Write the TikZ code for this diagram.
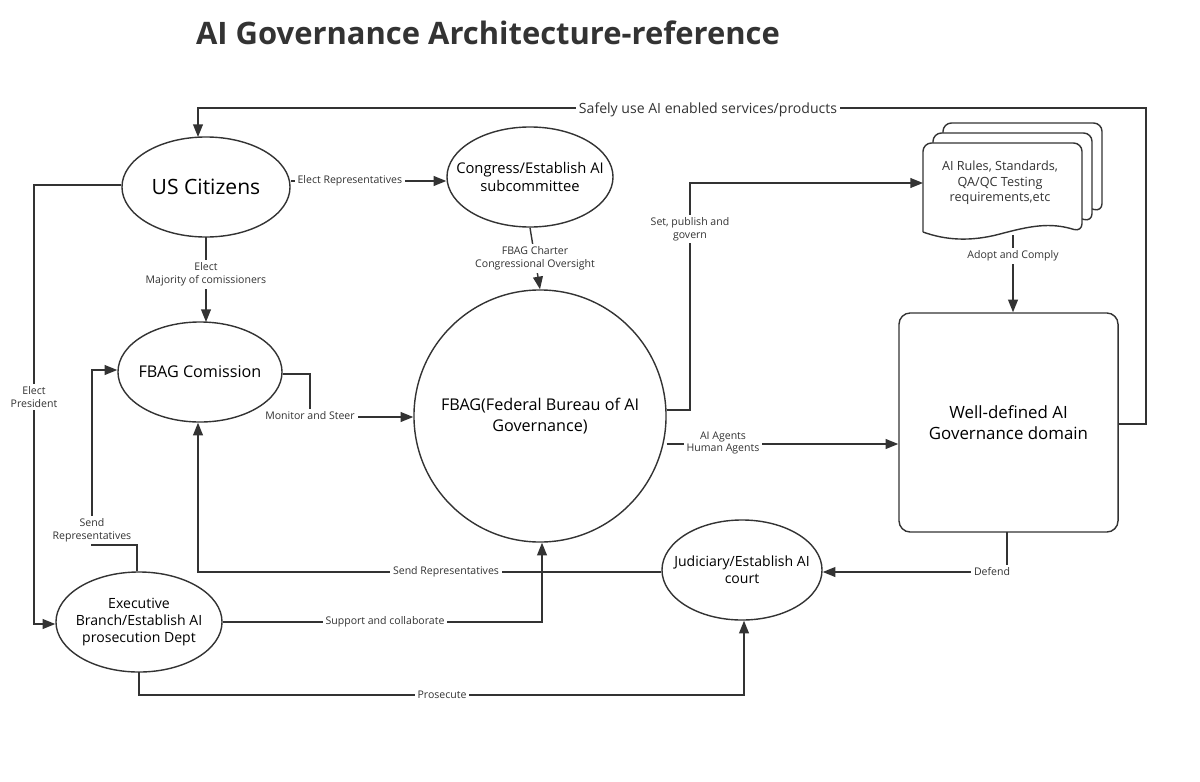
\documentclass[tikz,border=0pt]{standalone}
\usepackage{fontspec}
\setmainfont{Open Sans}
\usetikzlibrary{shapes.geometric,arrows.meta}
\definecolor{ink}{HTML}{333333}
\tikzset{
  ell/.style={draw=ink, line width=1pt, ellipse, align=center, fill=white, inner sep=-14pt},
  lbl/.style={fill=white, font=\fontsize{7.5}{9}\selectfont, align=center, inner sep=2pt, text=ink},
  link/.style={draw=ink, line width=1pt, -{Triangle[length=9pt,width=7pt]}},
  sheet/.style={draw=ink, line width=1pt, fill=white},
}
\begin{document}
\begin{tikzpicture}[x=0.025cm, y=-0.025cm]
\useasboundingbox (0,0) rectangle (1200,781);
\node[font=\bfseries\fontsize{22}{26}\selectfont, text=ink] (title) at (488,33) {AI Governance Architecture-reference};

% main shapes
\node[ell, minimum width=4.2cm, minimum height=2.5cm, font=\fontsize{15}{18}\selectfont] (us) at (206,187) {US Citizens};
\node[ell, minimum width=4.15cm, minimum height=2.5cm, font=\fontsize{10.5}{12.5}\selectfont] (cong) at (530,177) {Congress/Establish AI\\subcommittee};
\node[ell, minimum width=4.1cm, minimum height=2.5cm, font=\fontsize{11.5}{14}\selectfont] (comm) at (200,372) {FBAG Comission};
\node[draw=ink, line width=1pt, circle, minimum size=6.3cm, align=center, font=\fontsize{11.5}{15}\selectfont] (fbag) at (540,416) {FBAG(Federal Bureau of AI\\Governance)};
\node[draw=ink, line width=1pt, rounded corners=8pt, minimum width=5.475cm, minimum height=5.475cm, align=center, font=\fontsize{12}{15}\selectfont] (dom) at (1008.5,422.5) {Well-defined AI\\Governance domain};
\node[ell, minimum width=4cm, minimum height=2.5cm, font=\fontsize{10}{12}\selectfont] (jud) at (742,570) {Judiciary/Establish AI\\court};
\node[ell, minimum width=4.15cm, minimum height=2.5cm, font=\fontsize{10}{12}\selectfont] (exec) at (139,622) {Executive\\Branch/Establish AI\\prosecution Dept};

% stacked documents
\foreach \d in {20,10,0}
  \draw[sheet, rounded corners=6pt] (923+\d,232-\d) -- (923+\d,143-\d) -- (1082+\d,143-\d) -- (1082+\d,232-\d) [sharp corners]
    .. controls (1050+\d,222-\d) and (1030+\d,226-\d) .. (1000+\d,234-\d)
    .. controls (970+\d,242-\d) and (945+\d,240-\d) .. (923+\d,232-\d);
\node[font=\fontsize{9}{11}\selectfont, align=center, text=ink] (doc) at (1000,183) {AI Rules, Standards,\\QA/QC Testing\\requirements,etc};
\coordinate (docs) at (923,183);
\coordinate (docb) at (1013,235);

% connectors
\draw[link] (dom.east |- 0,424) -- (1146,424) -- (1146,108) -- (198,108) -- (198,137);
\node[lbl, font=\fontsize{10}{12}\selectfont] (safe) at (708,110) {Safely use AI enabled services/products};
\draw[link] (us.east |- 0,181) -- (cong.west |- 0,181) node[lbl, pos=0.38] (elrep) {Elect Representatives};
\draw[link] (206,237) -- (206,322) node[lbl, pos=0.44] (elmaj) {Elect\\Majority of comissioners};
\draw[link] (us.west |- 0,185) -- (34,185) -- (34,624) -- (exec.west |- 0,624);
\node[lbl] (elpres) at (34,397) {Elect\\President};
\draw[link] (cong.south) -- (fbag.north) node[lbl, midway] (charter) {FBAG Charter\\Congressional Oversight};
\draw[link] (comm.east |- 0,374) -- (310,374) -- (310,417) -- (fbag.west |- 0,417);
\node[lbl] (steer) at (310,416) {Monitor and Steer};
\draw[link] (fbag.east |- 0,410) -- (690,410) -- (690,183) -- (docs);
\node[lbl] (publish) at (690,229) {Set, publish and\\govern};
\draw[link] (fbag.east |- 0,444) -- (dom.west |- 0,444);
\node[lbl] (agents) at (723,443) {AI Agents\\Human Agents};
\draw[link] (docb) -- (dom.north -| docb);
\node[lbl] (adopt) at (1013,256) {Adopt and Comply};
\draw[link] (1007,532) -- (1007,572) -- (jud.east |- 0,572);
\node[lbl] (defend) at (992,572) {Defend};
\draw[link] (jud.west |- 0,572) -- (198,572) -- (comm.south -| 198,0);
\node[lbl] (sendr) at (446,572) {Send Representatives};
\draw[link] (exec.north -| 137,0) -- (137,545) -- (92,545) -- (92,370) -- (comm.west |- 0,370);
\node[lbl] (sendl) at (92,530) {Send\\Representatives};
\draw[link] (exec.east |- 0,622) -- (542,622) -- (fbag.south -| 542,0);
\node[lbl] (support) at (385,622) {Support and collaborate};
\draw[link] (139,672) -- (139,695) -- (744,695) -- (jud.south -| 744,0);
\node[lbl] (pros) at (442,695) {Prosecute};
\end{tikzpicture}
\end{document}
